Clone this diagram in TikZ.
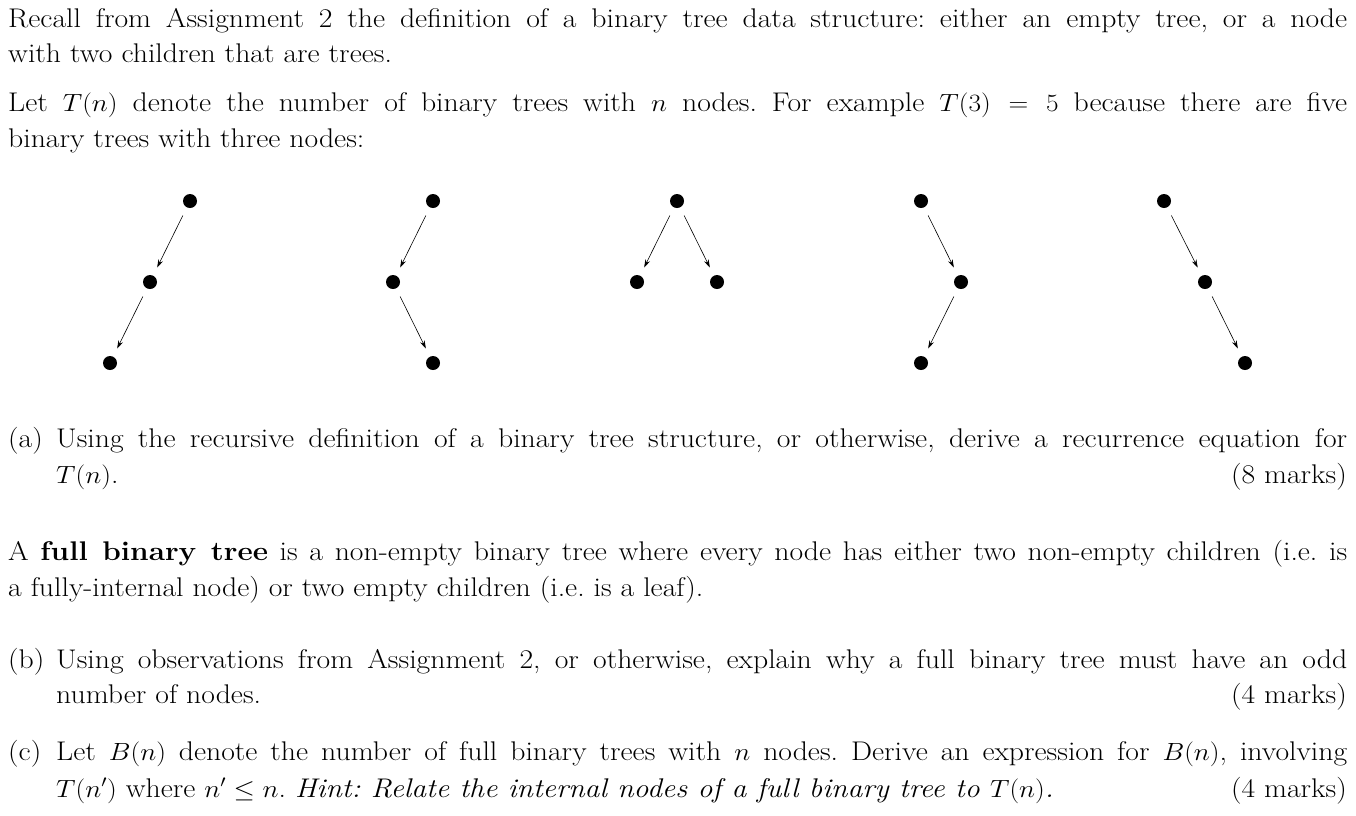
\documentclass[tikz,border=0pt]{standalone}
\usepackage{graphicx}
\usetikzlibrary{arrows.meta}
\frenchspacing
\newcommand{\jline}[2]{\scalebox{1.1}[1]{\hbox to \dimexpr #1pt*10/11\relax{#2}}}
\newcommand{\sxx}[1]{\scalebox{1.1}[1]{#1}}
\begin{document}
\begin{tikzpicture}[x=1pt,y=-1pt,
  txt/.style={anchor=base west,inner sep=0pt,font=\fontsize{27}{32}\selectfont\frenchspacing},
  mk/.style={anchor=base east,inner sep=0pt,font=\fontsize{27}{32}\selectfont},
  dot/.style={circle,fill=black,inner sep=0pt,minimum size=14pt},
  edge/.style={-{Stealth[length=8pt,width=5pt]},line width=0.6pt,shorten <=9pt,shorten >=9pt}]
\useasboundingbox (0,0) rectangle (1356,815);
\node[txt] (l1) at (8,27) {\jline{1339}{Recall from Assignment 2 the definition of a binary tree data structure: either an empty tree, or a node}};
\node[txt] (l2) at (8,62) {\sxx{with two children that are trees.}};
\node[txt] (l3) at (8,111) {\jline{1339}{Let $T(n)$ denote the number of binary trees with $n$ nodes. For example $T(3)=5$ because there are five}};
\node[txt] (l4) at (8,147) {\sxx{binary trees with three nodes:}};
% trees
\node[dot] (a1) at (190,201) {}; \node[dot] (a2) at (150,282) {}; \node[dot] (a3) at (110,363) {};
\draw[edge] (a1)--(a2); \draw[edge] (a2)--(a3);
\node[dot] (b1) at (433,201) {}; \node[dot] (b2) at (393,282) {}; \node[dot] (b3) at (433,363) {};
\draw[edge] (b1)--(b2); \draw[edge] (b2)--(b3);
\node[dot] (c1) at (677,201) {}; \node[dot] (c2) at (637,282) {}; \node[dot] (c3) at (717,282) {};
\draw[edge] (c1)--(c2); \draw[edge] (c1)--(c3);
\node[dot] (d1) at (921,201) {}; \node[dot] (d2) at (961,282) {}; \node[dot] (d3) at (921,363) {};
\draw[edge] (d1)--(d2); \draw[edge] (d2)--(d3);
\node[dot] (e1) at (1164,201) {}; \node[dot] (e2) at (1205,282) {}; \node[dot] (e3) at (1245,363) {};
\draw[edge] (e1)--(e2); \draw[edge] (e2)--(e3);
% (a)
\node[txt] (pa) at (8,447) {\sxx{(a)}};
\node[txt] (a1l) at (56,447) {\jline{1291}{Using the recursive definition of a binary tree structure, or otherwise, derive a recurrence equation for}};
\node[txt] (a2l) at (56,483) {\sxx{$T(n)$.}};
\node[mk] (am) at (1347,483) {\sxx{(8 marks)}};
% full
\node[txt] (f1) at (8,560) {\jline{1339}{A \textbf{full binary tree} is a non-empty binary tree where every node has either two non-empty children (i.e. is}};
\node[txt] (f2) at (8,596) {\sxx{a fully-internal node) or two empty children (i.e. is a leaf).}};
% (b)
\node[txt] (pb) at (8,668) {\sxx{(b)}};
\node[txt] (b1l) at (56,668) {\jline{1291}{Using observations from Assignment 2, or otherwise, explain why a full binary tree must have an odd}};
\node[txt] (b2l) at (56,703) {\sxx{number of nodes.}};
\node[mk] (bm) at (1347,703) {\sxx{(4 marks)}};
% (c)
\node[txt] (pc) at (8,760) {\sxx{(c)}};
\node[txt] (c1l) at (56,760) {\jline{1291}{Let $B(n)$ denote the number of full binary trees with $n$ nodes. Derive an expression for $B(n)$, involving}};
\node[txt] (c2l) at (56,797) {\sxx{$T(n')$ where $n'\le n$. \textit{Hint: Relate the internal nodes of a full binary tree to $T(n)$.}}};
\node[mk] (cm) at (1347,797) {\sxx{(4 marks)}};
\end{tikzpicture}
\end{document}
